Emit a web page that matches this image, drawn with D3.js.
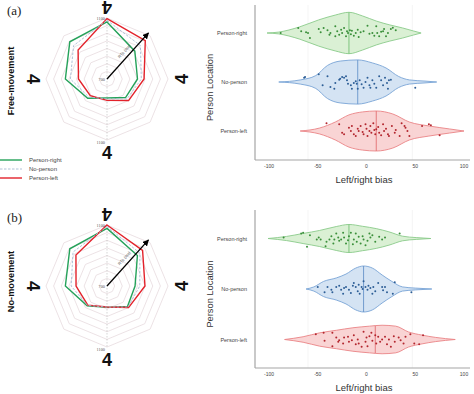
<!DOCTYPE html>
<html><head><meta charset="utf-8">
<script src="https://cdn.jsdelivr.net/npm/d3@7"></script>
<style>body{margin:0;background:#fff}svg{display:block}</style>
</head><body>
<svg id="c" width="474" height="394"></svg>
<script>
// ---------- DATA ----------
const seriesNames = ["Person-right", "No-person", "Person-left"];
const panelLetters = ["(a)", "(b)"];
const conditionNames = ["Free-movement", "No-movement"];
const radarTicks = [700, 750, 800, 850, 900, 950, 1000, 1050, 1100];
const radarMin = 700, radarMax = 1100;
const radarGlyph = "4";
const arrowLabel = "RTs (ms)";

// 8 axes, clockwise from top
const radarA_right = [1074, 958, 900, 872, 825, 879, 973, 1045];
const radarA_none  = [1085, 1010, 925, 885, 830, 868, 940, 1010];
const radarA_left  = [1096, 1055, 943, 900, 840, 855, 887, 968];
const radarB_right = [1078, 982, 884, 890, 840, 884, 973, 1045];
const radarB_none  = [1090, 1005, 915, 895, 838, 880, 935, 1015];
const radarB_left  = [1100, 1030, 949, 900, 838, 878, 903, 988];

const categories = ["Person-right", "No-person", "Person-left"];
const xTicks = [-100, -50, 0, 50, 100];
const refLines = [-60, 47];
const xTitle = "Left/right bias";
const yTitle = "Person Location";

// violin densities [bias, relative density]
const densA_right = [[-102,0],[-90,0.04],[-69,0.26],[-49,0.57],[-32,0.78],[-18,0.9],[-4,0.74],[10,0.52],[24,0.35],[37,0.22],[48,0.09],[56,0]];
const densA_none  = [[-90,0],[-68,0.09],[-52,0.28],[-40,0.72],[-27,0.91],[-9,0.96],[6,0.83],[20,0.61],[33,0.24],[44,0.09],[60,0.04],[72,0]];
const densA_left  = [[-68,0],[-48,0.13],[-32,0.39],[-18,0.7],[-4,0.83],[10,0.87],[27,0.74],[44,0.39],[64,0.22],[85,0.09],[100,0]];
const densB_right = [[-101,0],[-82,0.09],[-65,0.22],[-48,0.35],[-31,0.52],[-18,0.61],[-4,0.53],[10,0.43],[23,0.29],[37,0.1],[51,0.04],[66,0]];
const densB_none  = [[-62,0],[-54,0.09],[-44,0.33],[-31,0.48],[-21,0.65],[-11,0.91],[-3,1.0],[6,0.91],[16,0.61],[26,0.33],[37,0.09],[50,0.04],[67,0]];
const densB_left  = [[-84,0],[-65,0.12],[-48,0.29],[-31,0.4],[-14,0.51],[3,0.58],[16,0.62],[30,0.58],[43,0.33],[57,0.19],[71,0.09],[91,0]];

const mediansA = [-18, -9, 10];
const mediansB = [-18, -3, 9];

// observations [bias, jitter]
const ptsA_right = [[-88,0],[-70,-0.5],[-67,-0.17],[-62,-0.07],[-60,0],[-58,0.5],[-49,-0.4],[-47,-0.07],[-44,-0.5],[-40,-0.27],[-38,0.17],[-37,0],[-32,-0.67],[-32,0.33],[-30,-0.17],[-28,0.17],[-26,-0.33],[-25,0],[-23,-0.5],[-21,0.33],[-20,-0.17],[-19,0],[-17,-0.27],[-16,0.13],[-15,-0.23],[-13,0.27],[-11,0],[-9,-0.33],[-8,0.4],[-6,-0.07],[-3,-0.17],[1,-0.73],[3,0.07],[6,0],[8,0.27],[10,-0.67],[11,0],[13,0.33],[15,-0.13],[17,-0.17],[18,-0.4],[20,0.33],[22,0],[25,-0.4],[27,-0.53],[30,-0.27]];
const ptsA_none = [[-64,-0.43],[-63,-0.5],[-49,-0.77],[-45,0.33],[-40,-0.57],[-37,0.5],[-33,0.67],[-32,0.1],[-28,-0.23],[-27,-0.33],[-25,-0.5],[-23,-0.43],[-21,-0.57],[-20,-0.17],[-19,0.17],[-16,0.33],[-15,0.67],[-13,0.1],[-11,-0.07],[-10,0.17],[-9,0.67],[-7,-0.17],[-5,0.23],[-3,0.57],[-1,0],[1,-0.43],[3,0.33],[4,0.57],[6,-0.17],[8,0.17],[10,0.57],[13,-0.57],[15,-0.17],[17,0.33],[19,-0.43],[21,0.1],[22,0.67],[23,-0.17],[25,-0.23],[50,0.57]];
const ptsA_left = [[-41,-0.77],[-28,-0.67],[-25,0.17],[-23,0.33],[-18,-0.33],[-16,0],[-15,-0.5],[-13,0.33],[-11,0.5],[-9,-0.23],[-8,0],[-6,-0.5],[-4,0.1],[-3,0.33],[-1,-0.67],[0,-0.23],[1,0.5],[3,0],[4,-0.5],[5,0.17],[7,-0.77],[8,-0.1],[9,0.33],[10,-0.17],[12,-0.4],[13,0.17],[15,0.43],[17,-0.67],[18,0],[20,-0.23],[22,0.33],[23,0.5],[26,-0.5],[29,0.17],[30,-0.1],[34,0.5],[36,-0.77],[39,-0.5],[40,-0.33],[42,0],[44,0.5],[57,-0.5],[64,-0.67],[66,-0.57],[75,0.43]];
const ptsB_right = [[-85,-0.1],[-67,-0.5],[-65,-0.57],[-61,0.83],[-58,-0.33],[-51,0.1],[-49,-0.1],[-47,0.1],[-42,0.77],[-41,0.33],[-38,0.1],[-36,-0.23],[-34,0.5],[-33,0.1],[-31,-0.5],[-29,-0.1],[-28,0.23],[-26,0.1],[-24,-0.57],[-23,-0.1],[-21,0.5],[-19,0.17],[-18,-0.23],[-16,-0.57],[-14,0.57],[-13,0.1],[-11,-0.5],[-10,0.33],[-8,-0.17],[-6,0.5],[-4,-0.23],[-3,0.1],[-1,0.67],[1,0.23],[3,-0.5],[4,-0.1],[6,-0.33],[9,0.33],[13,-0.17],[16,0.1],[19,-0.1],[34,-0.5]];
const ptsB_none = [[-50,-0.2],[-43,0.33],[-40,-0.2],[-36,0.07],[-35,0.33],[-31,-0.2],[-28,-0.33],[-26,0.07],[-24,0.47],[-23,-0.1],[-21,-0.2],[-18,0.07],[-16,0.4],[-14,-0.33],[-13,-0.6],[-11,-0.2],[-9,0.23],[-8,-0.43],[-7,0.47],[-5,-0.2],[-4,0],[-3,-0.77],[-1,-0.2],[1,0.07],[2,-0.33],[4,-0.1],[6,0.47],[7,-0.2],[9,0.23],[12,-0.6],[16,-0.2],[17,0.13],[19,-0.2],[21,0.33],[27,0.47],[29,-0.67],[46,0.33]];
const ptsB_left = [[-52,-0.53],[-44,-0.67],[-43,0.13],[-35,-0.67],[-35,0.67],[-31,-0.2],[-29,0.23],[-28,0.07],[-24,0.4],[-23,-0.2],[-19,-0.27],[-18,0.23],[-15,0.07],[-13,-0.43],[-11,0.47],[-9,0],[-8,0.4],[-5,0.73],[-3,-0.77],[-1,0.23],[0,-0.2],[1,0.67],[3,-0.33],[5,-0.67],[6,0.13],[9,-0.43],[10,0.4],[12,-0.27],[14,0.23],[16,0],[19,-0.27],[21,0.47],[23,0],[25,0.73],[28,-0.33],[29,0.23],[33,-0.2],[35,0.07],[38,0.4],[40,-0.27],[45,-0.53],[49,0.4],[54,0.47],[58,-0.43]];

// ---------- DRAW ----------
const svg = d3.select("#c");
const radarColors = ["#25a25a", "#a8bcd4", "#e3222b"];
const vStroke = ["#8acb8a", "#78a4d6", "#ea8386"];
const vFill = ["#d6eecf", "#cfe0f2", "#f8cfcf"];
const vMed = ["#74c074", "#6693ca", "#e26f73"];
const vPt = ["#3a8f3a", "#2d5e96", "#b3262e"];

const panels = [
  {cy: 79, radar: [radarA_right, radarA_none, radarA_left], dens: [densA_right, densA_none, densA_left], med: mediansA,
   pts: [ptsA_right, ptsA_none, ptsA_left], vTop: 5, vBot: 160, bandTop: 33, bandBot: 131, letterY: 15, condY: 81, legend: true},
  {cy: 286, radar: [radarB_right, radarB_none, radarB_left], dens: [densB_right, densB_none, densB_left], med: mediansB,
   pts: [ptsB_right, ptsB_none, ptsB_left], vTop: 210, vBot: 368, bandTop: 238.5, bandBot: 339.5, letterY: 222, condY: 281.5, legend: false}
];

const cx = 107, R = 61;
const r = d3.scaleLinear().domain([radarMin, radarMax]).range([0, R]);
const ang = i => i * Math.PI / 4;
const radial = d3.lineRadial().angle((d, i) => ang(i)).radius(d => r(d)).curve(d3.curveLinearClosed);

const x = d3.scaleLinear().domain([-100, 100]).range([269, 464]);
const h = d3.scaleLinear().domain([0, 1]).range([0, 23]);

function densAt(dens, v) {
  for (let i = 0; i < dens.length - 1; i++) {
    if (v >= dens[i][0] && v <= dens[i+1][0]) {
      const t = (v - dens[i][0]) / (dens[i+1][0] - dens[i][0]);
      return dens[i][1] + t * (dens[i+1][1] - dens[i][1]);
    }
  }
  return 0;
}

const defs = svg.append("defs");
defs.append("marker").attr("id", "ah").attr("viewBox", "0 0 10 10").attr("refX", 9).attr("refY", 5)
  .attr("markerWidth", 5).attr("markerHeight", 5).attr("orient", "auto")
  .append("path").attr("d", "M0,0L10,5L0,10z").attr("fill", "#000");

panels.forEach((p, pi) => {
  const cy = p.cy;
  const g = svg.append("g").attr("transform", `translate(${cx},${cy})`);
  // rings
  radarTicks.slice(1).forEach(t => {
    g.append("path").attr("d", radial(d3.range(8).map(() => t)))
      .attr("fill", "none").attr("stroke", "#e6d8dc").attr("stroke-width", 0.75);
  });
  // vertical axis
  g.append("line").attr("x1", 0).attr("x2", 0).attr("y1", -r(radarMax)).attr("y2", r(radarMax))
    .attr("stroke", "#b8b8b8").attr("stroke-width", 0.6).attr("stroke-dasharray", "1.5,1.5");
  // series
  [0, 2, 1].forEach(si => {
    g.append("path").attr("d", radial(p.radar[si])).attr("fill", "none")
      .attr("stroke", radarColors[si]).attr("stroke-width", si === 1 ? 0.9 : 1.4)
      .attr("stroke-dasharray", si === 1 ? "2.5,1.5" : null);
  });
  // arrow
  const aAng = 42 * Math.PI / 180, L = 62;
  g.append("line").attr("x1", 0).attr("y1", 0).attr("x2", L * Math.sin(aAng)).attr("y2", -L * Math.cos(aAng))
    .attr("stroke", "#000").attr("stroke-width", 1.3).attr("marker-end", "url(#ah)");
  const mid = 32;
  g.append("text").attr("transform", `translate(${mid*Math.sin(aAng) - 3},${-mid*Math.cos(aAng) - 3}) rotate(-48)`)
    .attr("text-anchor", "middle").attr("font-family", "Liberation Sans, Arial").attr("font-size", 4.2)
    .attr("fill", "#555").text(arrowLabel);
  // numeric labels
  const lab = (txt, yy) => g.append("text").attr("x", -2).attr("y", yy).attr("text-anchor", "end")
    .attr("font-family", "Liberation Serif, serif").attr("font-size", 4.3).attr("fill", "#555").text(txt);
  lab(String(radarMin), 1.5);
  lab(String(radarMax), -R + 1.5);
  lab(String(radarMax), R + 3.5);
  // glyphs
  const gd = 74;
  [[0, -(gd - 2), 180], [gd + 1, 0, -90], [0, gd, 0], [-gd, 0, 90]].forEach(([gx, gy, rot]) => {
    g.append("text").attr("transform", `translate(${gx},${gy}) rotate(${rot})`)
      .attr("text-anchor", "middle").attr("dy", "0.36em").attr("font-family", "Liberation Sans, Arial")
      .attr("font-weight", "bold").attr("font-size", 18).attr("fill", "#111").text(radarGlyph);
  });
  // panel letter
  svg.append("text").attr("x", 7).attr("y", p.letterY).attr("font-family", "Liberation Serif, serif")
    .attr("font-size", 13).attr("fill", "#222").text(panelLetters[pi]);
  // condition label
  svg.append("text").attr("transform", `translate(14,${p.condY}) rotate(-90)`).attr("text-anchor", "middle")
    .attr("font-family", "Liberation Sans, Arial").attr("font-weight", "bold").attr("font-size", 9.2)
    .attr("fill", "#111").text(conditionNames[pi]);

  // ---------- violin panel ----------
  const y = d3.scalePoint().domain(categories).range([p.bandTop, p.bandBot]);
  const vg = svg.append("g");
  refLines.forEach(v => vg.append("line").attr("x1", x(v)).attr("x2", x(v)).attr("y1", p.vTop).attr("y2", p.vBot)
    .attr("stroke", "#efefef").attr("stroke-width", 0.6));
  vg.append("line").attr("x1", 255).attr("x2", 255).attr("y1", p.vTop).attr("y2", p.vBot).attr("stroke", "#a5a5a5").attr("stroke-width", 1.2);
  vg.append("line").attr("x1", 255).attr("x2", 470).attr("y1", p.vBot).attr("y2", p.vBot).attr("stroke", "#a5a5a5").attr("stroke-width", 1.2);
  xTicks.forEach(t => vg.append("text").attr("x", x(t)).attr("y", p.vBot + 7.5).attr("text-anchor", "middle")
    .attr("font-family", "Liberation Sans, Arial").attr("font-size", 5).attr("fill", "#444").text(t));
  vg.append("text").attr("x", 364).attr("y", p.vBot + 23).attr("text-anchor", "middle")
    .attr("font-family", "Liberation Sans, Arial").attr("font-size", 9.5).attr("fill", "#333").text(xTitle);
  vg.append("text").attr("transform", `translate(213,${(p.vTop + p.vBot) / 2 + 5}) rotate(-90)`).attr("text-anchor", "middle")
    .attr("font-family", "Liberation Sans, Arial").attr("font-size", 9.3).attr("fill", "#333").text(yTitle);
  categories.forEach((c, ci) => {
    const yc = y(c);
    vg.append("text").attr("x", 247).attr("y", yc + 2).attr("text-anchor", "end")
      .attr("font-family", "Liberation Sans, Arial").attr("font-size", 5.5).attr("fill", "#444").text(c);
    const area = d3.area().x(d => x(d[0])).y0(d => yc - h(d[1])).y1(d => yc + h(d[1])).curve(d3.curveMonotoneX);
    vg.append("path").attr("d", area(p.dens[ci])).attr("fill", vFill[ci]).attr("fill-opacity", 0.9)
      .attr("stroke", vStroke[ci]).attr("stroke-width", 0.9);
    const m = p.med[ci], hh = h(densAt(p.dens[ci], m));
    vg.append("line").attr("x1", x(m)).attr("x2", x(m)).attr("y1", yc - hh).attr("y2", yc + hh)
      .attr("stroke", vMed[ci]).attr("stroke-width", 0.9);
    p.pts[ci].forEach(d => vg.append("circle").attr("cx", x(d[0])).attr("cy", yc + d[1] * 10).attr("r", 1)
      .attr("fill", vPt[ci]));
  });

  // legend
  if (p.legend) {
    const ly = [160, 169, 178];
    [0, 1, 2].forEach(si => {
      svg.append("line").attr("x1", 0).attr("x2", 22).attr("y1", ly[si]).attr("y2", ly[si])
        .attr("stroke", radarColors[si]).attr("stroke-width", si === 1 ? 0.9 : 1.4)
        .attr("stroke-dasharray", si === 1 ? "2.5,1.5" : null);
      svg.append("text").attr("x", 29).attr("y", ly[si] + 2).attr("font-family", "Liberation Sans, Arial")
        .attr("font-size", 6).attr("fill", "#444").text(seriesNames[si]);
    });
  }
});
</script>
</body></html>
